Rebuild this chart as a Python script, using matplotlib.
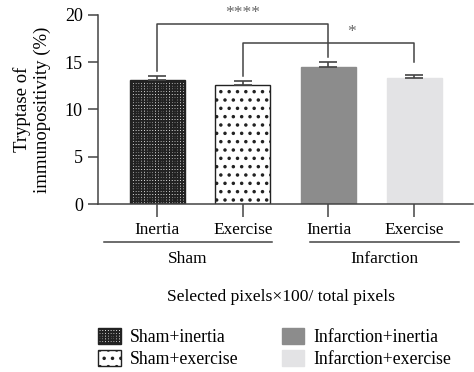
import matplotlib.pyplot as plt
from matplotlib.patches import Patch

plt.rcParams['font.family'] = ['Liberation Serif', 'DejaVu Serif']
plt.rcParams['hatch.linewidth'] = 1.3

groups = ['Sham', 'Infarction']
tick_labels = ['Inertia', 'Exercise', 'Inertia', 'Exercise']
legend_labels = ['Sham+inertia', 'Sham+exercise', 'Infarction+inertia', 'Infarction+exercise']
means = [13.05, 12.55, 14.5, 13.3]
errors = [0.45, 0.4, 0.45, 0.35]
# significance brackets: (bar a, bar b, bracket height, leg end a, leg end b, text, text x)
brackets = [(0, 2, 19.0, 14.0, 15.5, '****', 1.0),
            (1, 3, 17.0, 13.5, 15.0, '*', 2.27)]

faces = ['white', 'white', '#8c8c8c', '#e3e3e5']
hatches = ['++++++', '..', None, None]
edges = ['#222222', '#222222', '#8c8c8c', '#e3e3e5']
line_c = '#444444'

fig = plt.figure(figsize=(4.74, 3.72), dpi=100)
ax = fig.add_axes([0.207, 0.4516, 0.791, 0.5089])

x = list(range(len(means)))
for i in x:
    ax.bar(i, means[i], width=0.64, color=faces[i], hatch=hatches[i],
           edgecolor=edges[i], linewidth=1.0, zorder=2)
    ax.errorbar(i, means[i], yerr=[[0], [errors[i]]], fmt='none',
                ecolor=line_c, elinewidth=1.2, capsize=6.5, capthick=1.2, zorder=3)

for a, b, h, la, lb, txt, tx in brackets:
    ax.plot([a, a, b, b], [la, h, h, lb], color=line_c, lw=1.1, clip_on=False)
    ax.text(tx, h + 0.3, txt, ha='center', va='bottom',
            fontsize=12.5, color='#666666')

ax.set_xlim(-0.688, 3.687)
ax.set_ylim(0, 20)
ax.set_yticks([0, 5, 10, 15, 20])
ax.tick_params(axis='y', labelsize=13, length=7, width=1.1, color=line_c, pad=4)
ax.tick_params(axis='x', direction='out', length=9, width=1.1, color=line_c,
               labelsize=12.4, pad=4)
ax.set_xticks(x)
ax.set_xticklabels(tick_labels)
for s in ['top', 'right']:
    ax.spines[s].set_visible(False)
for s in ['left', 'bottom']:
    ax.spines[s].set_color(line_c)
    ax.spines[s].set_linewidth(1.1)

ax.set_ylabel('Tryptase of\nimmunopositivity (%)', fontsize=13.5, labelpad=10)

# group lines and labels under the x axis
group_spans = [(-0.62, 1.34), (1.79, 3.52)]
for (g0, g1), name in zip(group_spans, groups):
    ax.plot([g0, g1], [-4.0, -4.0], color=line_c, lw=1.1, clip_on=False)
    ax.text((g0 + g1) / 2, -5.0, name, ha='center', va='top', fontsize=12.4)

fig.text(0.593, 0.202, 'Selected pixels\u00d7100/ total pixels', ha='center',
         va='center', fontsize=12.6)

handles = [Patch(facecolor=faces[i], hatch=hatches[i], edgecolor=edges[i],
                 label=legend_labels[i]) for i in range(4)]
fig.legend(handles=handles, loc='center', bbox_to_anchor=(0.58, 0.064), ncol=2,
           frameon=False, fontsize=12.8, handlelength=1.25, handleheight=0.95,
           columnspacing=2.4, labelspacing=0.25, handletextpad=0.55)

fig.savefig('out.png', dpi=100)
